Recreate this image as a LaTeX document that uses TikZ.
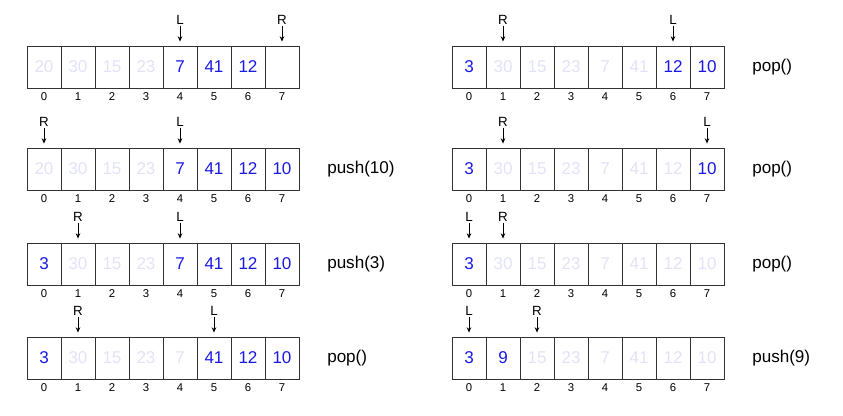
\documentclass[tikz,border=0pt]{standalone}
\usepackage{fontspec}
\setmainfont{Liberation Sans}
\usetikzlibrary{arrows.meta}
\definecolor{live}{RGB}{25,25,230}
\definecolor{dead}{RGB}{226,226,248}
\tikzset{
  cell/.style={draw=black!80,line width=0.65pt,minimum width=25.5pt,minimum height=31.5pt,inner sep=0pt,font=\fontsize{12.8}{14}\selectfont},
  idx/.style={inner sep=0pt,font=\fontsize{8.5}{10}\selectfont},
  ptr/.style={inner sep=0pt,font=\fontsize{10}{11}\selectfont},
  ptrarrow/.style={-{Stealth[length=4pt,width=3.5pt]},line width=0.6pt},
  op/.style={anchor=west,inner sep=0pt,font=\fontsize{12.8}{14}\selectfont}
}
% one row of eight cells with its indices
\newcommand{\deque}[4]{%
  \foreach \v/\c [count=\i from 0] in {#4} {
    \node[cell,text=\c] (#3c\i) at ({#1+17+34*\i},{#2+21}) {\v};
    \node[idx] (#3i\i) at ({#1+17+34*\i},{#2+51}) {\i};
  }}
% a pointer letter with its arrow onto a cell
\newcommand{\pointer}[3]{%
  \node[ptr] (#1) at ([yshift=19.5pt]#2.north) {#3};
  \draw[ptrarrow] ([yshift=-1pt]#1.south) -- ([yshift=3pt]#2.north);}

\begin{document}
\begin{tikzpicture}[x=0.75pt,y=-0.75pt]
  \useasboundingbox (0,0) rectangle (843,416);

  % left column
  \deque{27}{46}{a}{20/dead,30/dead,15/dead,23/dead,7/live,41/live,12/live,/dead}
  \pointer{aL}{ac4}{L}
  \pointer{aR}{ac7}{R}

  \deque{27}{148}{b}{20/dead,30/dead,15/dead,23/dead,7/live,41/live,12/live,10/live}
  \pointer{bR}{bc0}{R}
  \pointer{bL}{bc4}{L}
  \node[op] (bop) at (327,169) {push(10)};

  \deque{27}{243}{c}{3/live,30/dead,15/dead,23/dead,7/live,41/live,12/live,10/live}
  \pointer{cR}{cc1}{R}
  \pointer{cL}{cc4}{L}
  \node[op] (cop) at (327,264) {push(3)};

  \deque{27}{337}{d}{3/live,30/dead,15/dead,23/dead,7/dead,41/live,12/live,10/live}
  \pointer{dR}{dc1}{R}
  \pointer{dL}{dc5}{L}
  \node[op] (dop) at (327,358) {pop()};

  % right column
  \deque{452}{46}{e}{3/live,30/dead,15/dead,23/dead,7/dead,41/dead,12/live,10/live}
  \pointer{eR}{ec1}{R}
  \pointer{eL}{ec6}{L}
  \node[op] (eop) at (752,67) {pop()};

  \deque{452}{148}{f}{3/live,30/dead,15/dead,23/dead,7/dead,41/dead,12/dead,10/live}
  \pointer{fR}{fc1}{R}
  \pointer{fL}{fc7}{L}
  \node[op] (fop) at (752,169) {pop()};

  \deque{452}{243}{g}{3/live,30/dead,15/dead,23/dead,7/dead,41/dead,12/dead,10/dead}
  \pointer{gL}{gc0}{L}
  \pointer{gR}{gc1}{R}
  \node[op] (gop) at (752,264) {pop()};

  \deque{452}{337}{h}{3/live,9/live,15/dead,23/dead,7/dead,41/dead,12/dead,10/dead}
  \pointer{hL}{hc0}{L}
  \pointer{hR}{hc2}{R}
  \node[op] (hop) at (752,358) {push(9)};
\end{tikzpicture}
\end{document}
